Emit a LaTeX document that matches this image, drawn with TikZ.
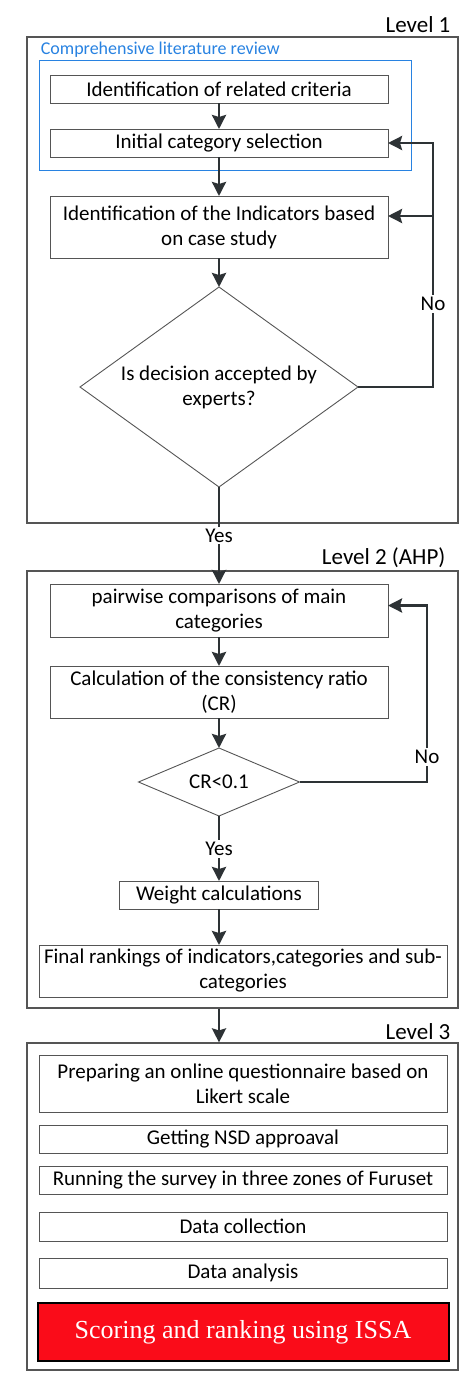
\documentclass[tikz,border=0pt]{standalone}
\usepackage{fontspec}
\setmainfont{Carlito}
\newfontfamily\issafont{Liberation Serif}
\usepackage{tikz}
\usetikzlibrary{shapes.geometric,arrows.meta,positioning,fit,calc}
\definecolor{gray1}{RGB}{45,50,53}
\definecolor{gray2}{RGB}{85,85,85}
\definecolor{blue1}{RGB}{40,130,225}
\definecolor{red1}{RGB}{250,12,25}

\begin{document}
\begin{tikzpicture}[x=1pt, y=-1pt, node distance=26pt,
    stepbox/.style={draw=gray2, line width=0.9pt, minimum width=338pt, minimum height=28pt,
        inner sep=1pt, outer sep=0pt, align=center, font=\fontsize{21pt}{25pt}\selectfont},
    widebox/.style={stepbox, minimum width=408pt},
    decision/.style={diamond, draw=gray2, line width=0.9pt, inner sep=0pt, outer sep=0pt, align=center,
        font=\fontsize{21pt}{25pt}\selectfont},
    frame/.style={draw=gray2, line width=1.2pt, inner sep=0pt},
    flow/.style={-{Stealth[length=14pt,width=14pt,inset=2pt]}, draw=gray1, line width=2.8pt},
    tag/.style={fill=white, inner sep=2pt, font=\fontsize{21pt}{25pt}\selectfont},
    leveltag/.style={anchor=base east, inner sep=0pt, font=\fontsize{23pt}{26pt}\selectfont}]
    \useasboundingbox (0,0) rectangle (474,1385);

    % Level 1
    \node[stepbox] (ident) at (219,89) {Identification of related criteria};
    \node[stepbox, below=of ident] (initial) {Initial category selection};
    \node[stepbox, below=39pt of initial, minimum height=62pt] (indic) {Identification of the Indicators based\\on case study};
    \node[decision, below=29pt of indic, aspect=1.39, minimum width=278pt, minimum height=200pt] (accept) {Is decision accepted by\\experts?};

    % Level 2 (AHP)
    \node[stepbox, below=97pt of accept, minimum height=53pt] (pairwise) {pairwise comparisons of main\\categories};
    \node[stepbox, below=29pt of pairwise, minimum height=52pt] (ratio) {Calculation of the consistency ratio\\(CR)};
    \node[decision, below=30pt of ratio, aspect=2.37, minimum width=161pt, minimum height=68pt] (crtest) {CR<0.1};
    \node[stepbox, below=65pt of crtest, minimum width=199pt] (weight) {Weight calculations};
    \node[widebox, below=36pt of weight, xshift=24pt, minimum height=52pt] (final) {Final rankings of indicators,categories and sub-\\categories};

    % Level 3
    \node[widebox, below=58pt of final, minimum height=57pt] (prepare) {Preparing an online questionnaire based on\\Likert scale};
    \node[widebox, below=13pt of prepare] (nsd) {Getting NSD approaval};
    \node[widebox, below=13pt of nsd] (survey) {Running the survey in three zones of Furuset};
    \node[widebox, below=18pt of survey, minimum height=29pt] (collect) {Data collection};
    \node[widebox, below=17pt of collect, minimum height=30pt] (analysis) {Data analysis};
    \node[draw=black, fill=red1, line width=2pt, outer sep=0pt, minimum width=411pt, minimum height=58pt,
        below=15pt of analysis, text=white, font=\issafont\fontsize{26pt}{30pt}\selectfont] (issa) {Scoring and ranking using ISSA};

    % frames
    \coordinate (l1a) at (27,37);   \coordinate (l1b) at (458,523);
    \coordinate (l2a) at (27,571);  \coordinate (l2b) at (458,1008);
    \coordinate (l3a) at (27,1043); \coordinate (l3b) at (458,1370);
    \coordinate (rva) at (39,60);   \coordinate (rvb) at (411,170);
    \node[frame, fit=(l1a)(l1b)] (level1) {};
    \node[frame, fit=(l2a)(l2b)] (level2) {};
    \node[frame, fit=(l3a)(l3b)] (level3) {};
    \node[draw=blue1, line width=0.8pt, inner sep=0pt, fit=(rva)(rvb)] (review) {};
    \node[anchor=base west, inner sep=0pt, text=blue1, font=\fontsize{18pt}{20pt}\selectfont]
        at ([xshift=2pt,yshift=5pt]review.north west) {Comprehensive literature review};
    \node[leveltag] at ([xshift=-8pt,yshift=4pt]level1.north east) {Level 1};
    \node[leveltag] at ([xshift=-13pt,yshift=6pt]level2.north east) {Level 2 (AHP)};
    \node[leveltag] at ([xshift=-8pt,yshift=3pt]level3.north east) {Level 3};

    % connectors
    \draw[flow] (ident) -- (initial);
    \draw[flow] (initial) -- (indic);
    \draw[flow] (indic) -- (accept);
    \coordinate (loop1) at ([xshift=45pt]initial.east);
    \coordinate (indicin) at ([yshift=11pt]indic.east);
    \draw[flow] (accept.east) -| node[tag, pos=0.67] {No} (loop1) -- (initial.east);
    \draw[flow] (loop1 |- indicin) -- (indicin);
    \draw[flow] (accept.south) -- node[tag, pos=0.5] {Yes} (pairwise.north);

    \draw[flow] (pairwise) -- (ratio);
    \draw[flow] (ratio) -- (crtest);
    \coordinate (pairin) at ([yshift=5pt]pairwise.east);
    \draw[flow] (crtest.east) -| node[tag, pos=0.57] {No} ([xshift=39pt]pairin) -- (pairin);
    \draw[flow] (crtest.south) -- node[tag, pos=0.51] {Yes} (weight.north);
    \draw[flow] (weight) -- (weight.south |- final.north);
    \draw[flow] (weight.south |- level2.south) -- (weight.south |- level3.north);
\end{tikzpicture}
\end{document}
